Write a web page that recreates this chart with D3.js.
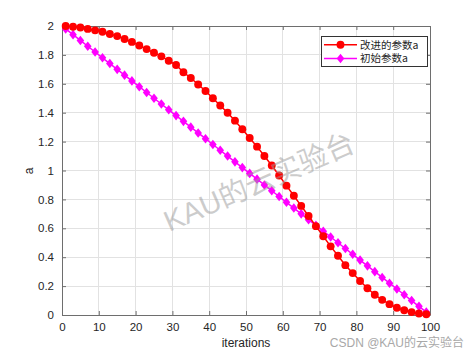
<!DOCTYPE html>
<html><head><meta charset="utf-8">
<script src="https://cdn.jsdelivr.net/npm/d3@7"></script>
<style>html,body{margin:0;padding:0;background:#fff;}svg{display:block;}</style>
</head><body>
<script>
const iterations = [1,3,5,7,9,11,13,15,17,19,21,23,25,27,29,31,33,35,37,39,41,43,45,47,49,51,53,55,57,59,61,63,65,67,69,71,73,75,77,79,81,83,85,87,89,91,93,95,97,99];
const improvedA = [2.00,1.995,1.99,1.98,1.97,1.96,1.945,1.93,1.91,1.89,1.865,1.84,1.815,1.79,1.76,1.73,1.68,1.64,1.595,1.55,1.50,1.45,1.40,1.345,1.285,1.225,1.165,1.10,1.035,0.965,0.895,0.825,0.755,0.685,0.615,0.545,0.475,0.41,0.345,0.29,0.235,0.185,0.14,0.105,0.075,0.05,0.033,0.02,0.01,0.005];
const initialA = [1.98,1.94,1.90,1.86,1.82,1.78,1.74,1.70,1.66,1.62,1.58,1.54,1.50,1.46,1.42,1.38,1.34,1.30,1.26,1.22,1.18,1.14,1.10,1.06,1.02,0.98,0.94,0.90,0.86,0.82,0.78,0.74,0.70,0.66,0.62,0.58,0.54,0.50,0.46,0.42,0.38,0.34,0.30,0.26,0.22,0.18,0.14,0.10,0.06,0.02];
const xTicks = [0,10,20,30,40,50,60,70,80,90,100];
const yTicks = [0,0.2,0.4,0.6,0.8,1,1.2,1.4,1.6,1.8,2];
const seriesNames = ["改进的参数a","初始参数a"];
const xLabel = "iterations", yLabel = "a";
const watermark = "KAU的云实验台";
const credit = "CSDN @KAU的云实验台";

(function(){
const W = 474, H = 355;
const pL = 62, pR = 430, pT = 26, pB = 315;
const svg = d3.select("body").append("svg").attr("width", W).attr("height", H);
const x = d3.scaleLinear().domain([0,100]).range([pL,pR]);
const y = d3.scaleLinear().domain([0,2]).range([pB,pT]);
const tickFont = "'Liberation Sans', Arial, sans-serif";
const axisColor = "#6e6e6e", textColor = "#262626";

const g = svg.append("g");
g.selectAll(".gx").data(xTicks.slice(1,-1)).join("line")
  .attr("x1", d=>x(d)).attr("x2", d=>x(d)).attr("y1", pT).attr("y2", pB)
  .attr("stroke", "#e2e2e2").attr("stroke-width", 1).attr("shape-rendering","crispEdges");
g.selectAll(".gy").data(yTicks.slice(1,-1)).join("line")
  .attr("y1", d=>y(d)).attr("y2", d=>y(d)).attr("x1", pL).attr("x2", pR)
  .attr("stroke", "#e2e2e2").attr("stroke-width", 1).attr("shape-rendering","crispEdges");

function styleAxis(sel, hideText) {
  sel.select(".domain").attr("stroke", axisColor);
  sel.selectAll(".tick line").attr("stroke", axisColor);
  sel.selectAll(".tick text").attr("fill", textColor).style("font-family", tickFont).style("font-size", "11.5px");
  if (hideText) sel.selectAll(".tick text").remove();
}
const fmt = d => String(d);
svg.append("g").attr("transform", `translate(0,${pB})`)
  .call(d3.axisBottom(x).tickValues(xTicks).tickFormat(fmt).tickSizeInner(-4).tickSizeOuter(0).tickPadding(8))
  .call(s => styleAxis(s, false));
svg.append("g").attr("transform", `translate(0,${pT})`)
  .call(d3.axisTop(x).tickValues(xTicks).tickSizeInner(-4).tickSizeOuter(0))
  .call(s => styleAxis(s, true));
svg.append("g").attr("transform", `translate(${pL},0)`)
  .call(d3.axisLeft(y).tickValues(yTicks).tickFormat(fmt).tickSizeInner(-4).tickSizeOuter(0).tickPadding(8))
  .call(s => styleAxis(s, false));
svg.append("g").attr("transform", `translate(${pR},0)`)
  .call(d3.axisRight(y).tickValues(yTicks).tickSizeInner(-4).tickSizeOuter(0))
  .call(s => styleAxis(s, true));

svg.append("text").attr("x", (pL+pR)/2).attr("y", 347).attr("text-anchor","middle")
  .attr("fill", textColor).style("font-family", tickFont).style("font-size","12px").text(xLabel);
svg.append("text").attr("transform", `translate(33,171) rotate(-90)`).attr("text-anchor","middle")
  .attr("fill", textColor).style("font-family", tickFont).style("font-size","12px").text(yLabel);

const line = d3.line().x(d=>x(d[0])).y(d=>y(d[1]));
const redPts = iterations.map((t,i)=>[t, improvedA[i]]);
const magPts = iterations.map((t,i)=>[t, initialA[i]]);
const diamond = (cx, cy, w, h) => `M${cx},${cy-h}L${cx+w},${cy}L${cx},${cy+h}L${cx-w},${cy}Z`;

svg.append("path").datum(magPts).attr("d", line).attr("fill","none").attr("stroke","#ff00ff").attr("stroke-width",1.5);
svg.append("g").selectAll("path").data(magPts).join("path")
  .attr("d", d => diamond(x(d[0]), y(d[1]), 3.8, 4.8)).attr("fill","#ff00ff");
svg.append("path").datum(redPts).attr("d", line).attr("fill","none").attr("stroke","#ff0000").attr("stroke-width",1.5);
svg.append("g").selectAll("circle").data(redPts).join("circle")
  .attr("cx", d=>x(d[0])).attr("cy", d=>y(d[1])).attr("r", 3.95).attr("fill","#ff0000");

const lg = svg.append("g");
lg.append("rect").attr("x", 321.5).attr("y", 36.5).attr("width", 106).attr("height", 30)
  .attr("fill","#fff").attr("stroke","#333").attr("stroke-width",1);
const legendRows = [
  {name: seriesNames[0], color: "#ff0000", type: "circle", yy: 44.8},
  {name: seriesNames[1], color: "#ff00ff", type: "diamond", yy: 58.5}
];
legendRows.forEach(r => {
  lg.append("line").attr("x1", 324).attr("x2", 357).attr("y1", r.yy).attr("y2", r.yy)
    .attr("stroke", r.color).attr("stroke-width", 1.5);
  if (r.type === "circle") lg.append("circle").attr("cx", 340.5).attr("cy", r.yy).attr("r", 3.95).attr("fill", r.color);
  else lg.append("path").attr("d", diamond(340.5, r.yy, 3.8, 4.8)).attr("fill", r.color);
  lg.append("text").attr("x", 360).attr("y", r.yy).attr("dy","0.36em")
    .attr("fill", textColor).style("font-family", "'Noto Sans CJK SC', 'Liberation Sans', sans-serif")
    .style("font-size","10.5px").text(r.name);
});

svg.append("text").attr("transform","translate(259,182) rotate(-23.5)").attr("text-anchor","middle")
  .attr("dy","0.35em").attr("fill","#9a9a9a").attr("fill-opacity",0.5)
  .style("font-family","'Liberation Sans', 'Noto Sans CJK SC', sans-serif").style("font-size","29px").text(watermark);
svg.append("text").attr("x", 464).attr("y", 347).attr("text-anchor","end")
  .attr("fill","#a8a8a8").style("font-family","'Liberation Sans', 'Noto Sans CJK SC', sans-serif")
  .style("font-size","12px").text(credit);
})();
</script>
</body></html>
